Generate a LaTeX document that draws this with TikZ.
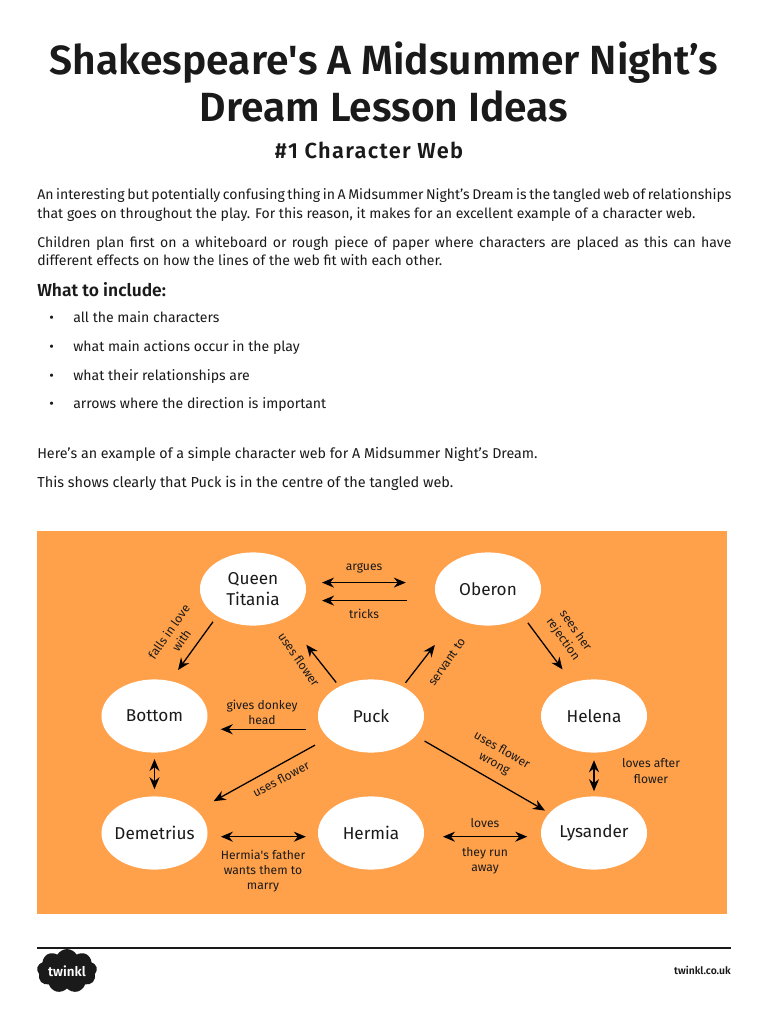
\documentclass[tikz,border=0pt]{standalone}
\usepackage{xcolor}
\usepackage{fontspec}
\setmainfont{Fira Sans}
\newfontfamily\headfont{Fira Sans SemiBold}
\usetikzlibrary{arrows.meta,shapes.geometric,shapes.symbols}
\definecolor{Ink}{HTML}{1A1A1A}
\definecolor{Panel}{HTML}{FFA04A}
\tikzset{
  webarrow/.style={-{Stealth[length=3mm,width=2.5mm]}, line width=0.9pt, draw=black},
  bothways/.style={{Stealth[length=3mm,width=2.5mm]}-{Stealth[length=3mm,width=2.5mm]}, line width=0.9pt, draw=black},
  charnode/.style={ellipse, fill=white, minimum width=2.65cm, minimum height=1.83cm, inner sep=-3pt, outer sep=0pt, align=center, text=Ink, font=\fontsize{12.2}{14.7}\selectfont},
  linklabel/.style={font=\fontsize{8.6}{10.8}\selectfont, align=center, text=Ink, inner sep=0pt},
  bodytext/.style={font=\fontsize{10}{12.9}\selectfont, text=Ink, inner sep=0pt, anchor=base west},
  paratext/.style={font=\fontsize{10}{12.9}\selectfont, text=Ink, inner sep=0pt, anchor=west, text width=17.35cm, align=justify},
}
\begin{document}
\begin{tikzpicture}[x=0.025cm,y=-0.025cm]
\path[use as bounding box] (0,0) rectangle (768,1024);
\node[font=\fontsize{29}{33.5}\selectfont\headfont,text=Ink,align=center,inner sep=0pt] (title) at (384,82) {Shakespeare\textquotesingle s A Midsummer Night’s\\Dream Lesson Ideas};
\node[font=\fontsize{15.5}{18}\selectfont\headfont\addfontfeature{LetterSpace=6},text=Ink,inner sep=0pt] (subtitle) at (369,150) {\#1 Character Web};
\node[paratext] (para1) at (37,205) {An interesting but potentially confusing thing in A Midsummer Night’s Dream is the tangled web of relationships that goes on throughout the play. For this reason, it makes for an excellent example of a character web.};
\node[paratext] (para2) at (37,251) {Children plan first on a whiteboard or rough piece of paper where characters are placed as this can have different effects on how the lines of the web fit with each other.};
\node[bodytext,font=\fontsize{12.4}{14}\selectfont\headfont] (include) at (37,296) {What to include:};
\foreach \ypos/\txt in {
322/all the main characters,
351/what main actions occur in the play,
380/what their relationships are,
408/arrows where the direction is important}{
  \node[bodytext] at (49,\ypos) {•};
  \node[bodytext] at (73,\ypos) {\txt};
}
\node[bodytext,font=\fontsize{10.15}{12.9}\selectfont] (here) at (37,458) {Here’s an example of a simple character web for A Midsummer Night’s Dream.};
\node[bodytext,font=\fontsize{10.3}{12.9}\selectfont] (shows) at (37,487) {This shows clearly that Puck is in the centre of the tangled web.};

\fill[Panel] (36.5,531) rectangle (726.5,913.5);
\node[charnode] (queen) at (253,589) {Queen\\Titania};
\node[charnode] (oberon) at (488,589) {Oberon};
\node[charnode] (bottom) at (154.5,716) {Bottom};
\node[charnode] (puck) at (371,716) {Puck};
\node[charnode] (helena) at (594,716) {Helena};
\node[charnode] (demetrius) at (154.5,833) {Demetrius};
\node[charnode] (hermia) at (371,833) {Hermia};
\node[charnode] (lysander) at (594,833) {Lysander};
% arrows stop short of the ellipses
\draw[bothways,shorten <=0.42cm,shorten >=0.75cm] (queen.7) -- (oberon.173);
\draw[webarrow,shorten <=0.78cm,shorten >=0.47cm] (oberon.193.5) -- (queen.-13.5);
\draw[webarrow,shorten <=0.18cm,shorten >=0.34cm] (queen.217) -- (bottom.66);
\draw[webarrow,shorten <=0.13cm,shorten >=0.85cm] (puck.137.8) -- (queen.318.7);
\draw[webarrow,shorten <=0.12cm,shorten >=0.85cm] (puck.43.7) -- (oberon.222.6);
\draw[webarrow,shorten <=0.2cm,shorten >=0.41cm] (oberon.322) -- (helena.123);
\draw[webarrow,shorten <=0.39cm,shorten >=0.42cm] (puck.195) -- (bottom.-15);
\draw[webarrow,shorten <=0.38cm,shorten >=0.49cm] (puck.207) -- (demetrius.28.8);
\draw[bothways,shorten <=0.16cm,shorten >=0.18cm] (bottom.south) -- (demetrius.north);
\draw[bothways,shorten <=0.19cm,shorten >=0.13cm] (helena.south) -- (lysander.north);
\draw[webarrow,shorten <=0.26cm,shorten >=0.13cm] (puck.336.7) -- (lysander.156.3);
\draw[bothways,shorten <=0.34cm,shorten >=0.31cm] (demetrius.-4.3) -- (hermia.184.3);
\draw[bothways,shorten <=0.48cm,shorten >=0.35cm] (hermia.-4.3) -- (lysander.184.3);

\node[linklabel] (argues) at (364,568.5) {argues};
\node[linklabel] (tricks) at (364,613.5) {tricks};
\node[linklabel,rotate=55] (fallslabel) at (175,636) {falls in love\\with};
\node[linklabel,rotate=-55] (flowerqueen) at (299,659.5) {uses flower};
\node[linklabel] (donkey) at (262,712) {gives donkey\\head};
\node[linklabel,rotate=55] (servant) at (447,662) {servant to};
\node[linklabel,rotate=-55] (rejection) at (569,635) {sees her\\rejection};
\node[linklabel,rotate=-30] (wrong) at (498,757) {uses flower\\wrong};
\node[linklabel,rotate=28] (flowerdem) at (281,779) {uses flower};
\node[linklabel] (after) at (651,771) {loves after\\flower};
\node[linklabel] (loves) at (485,823) {loves};
\node[linklabel] (runaway) at (485,860.5) {they run\\away};
\node[linklabel] (father) at (263,871) {Hermia\textquotesingle s father\\wants them to\\marry};

% footer
\draw[Ink,line width=1.9pt] (37,948) -- (731,948);
\node[cloud,cloud puffs=9,cloud puff arc=120,aspect=1.5,fill=Ink,text=white,inner sep=0pt,minimum width=1.5cm,minimum height=0.95cm,font=\fontsize{9.5}{10}\selectfont\headfont] (logo) at (67,971) {twinkl};
\node[font=\fontsize{7.4}{8}\selectfont\headfont,text=Ink,inner sep=0pt,anchor=east] (site) at (731,970) {twinkl.co.uk};
\end{tikzpicture}
\end{document}
